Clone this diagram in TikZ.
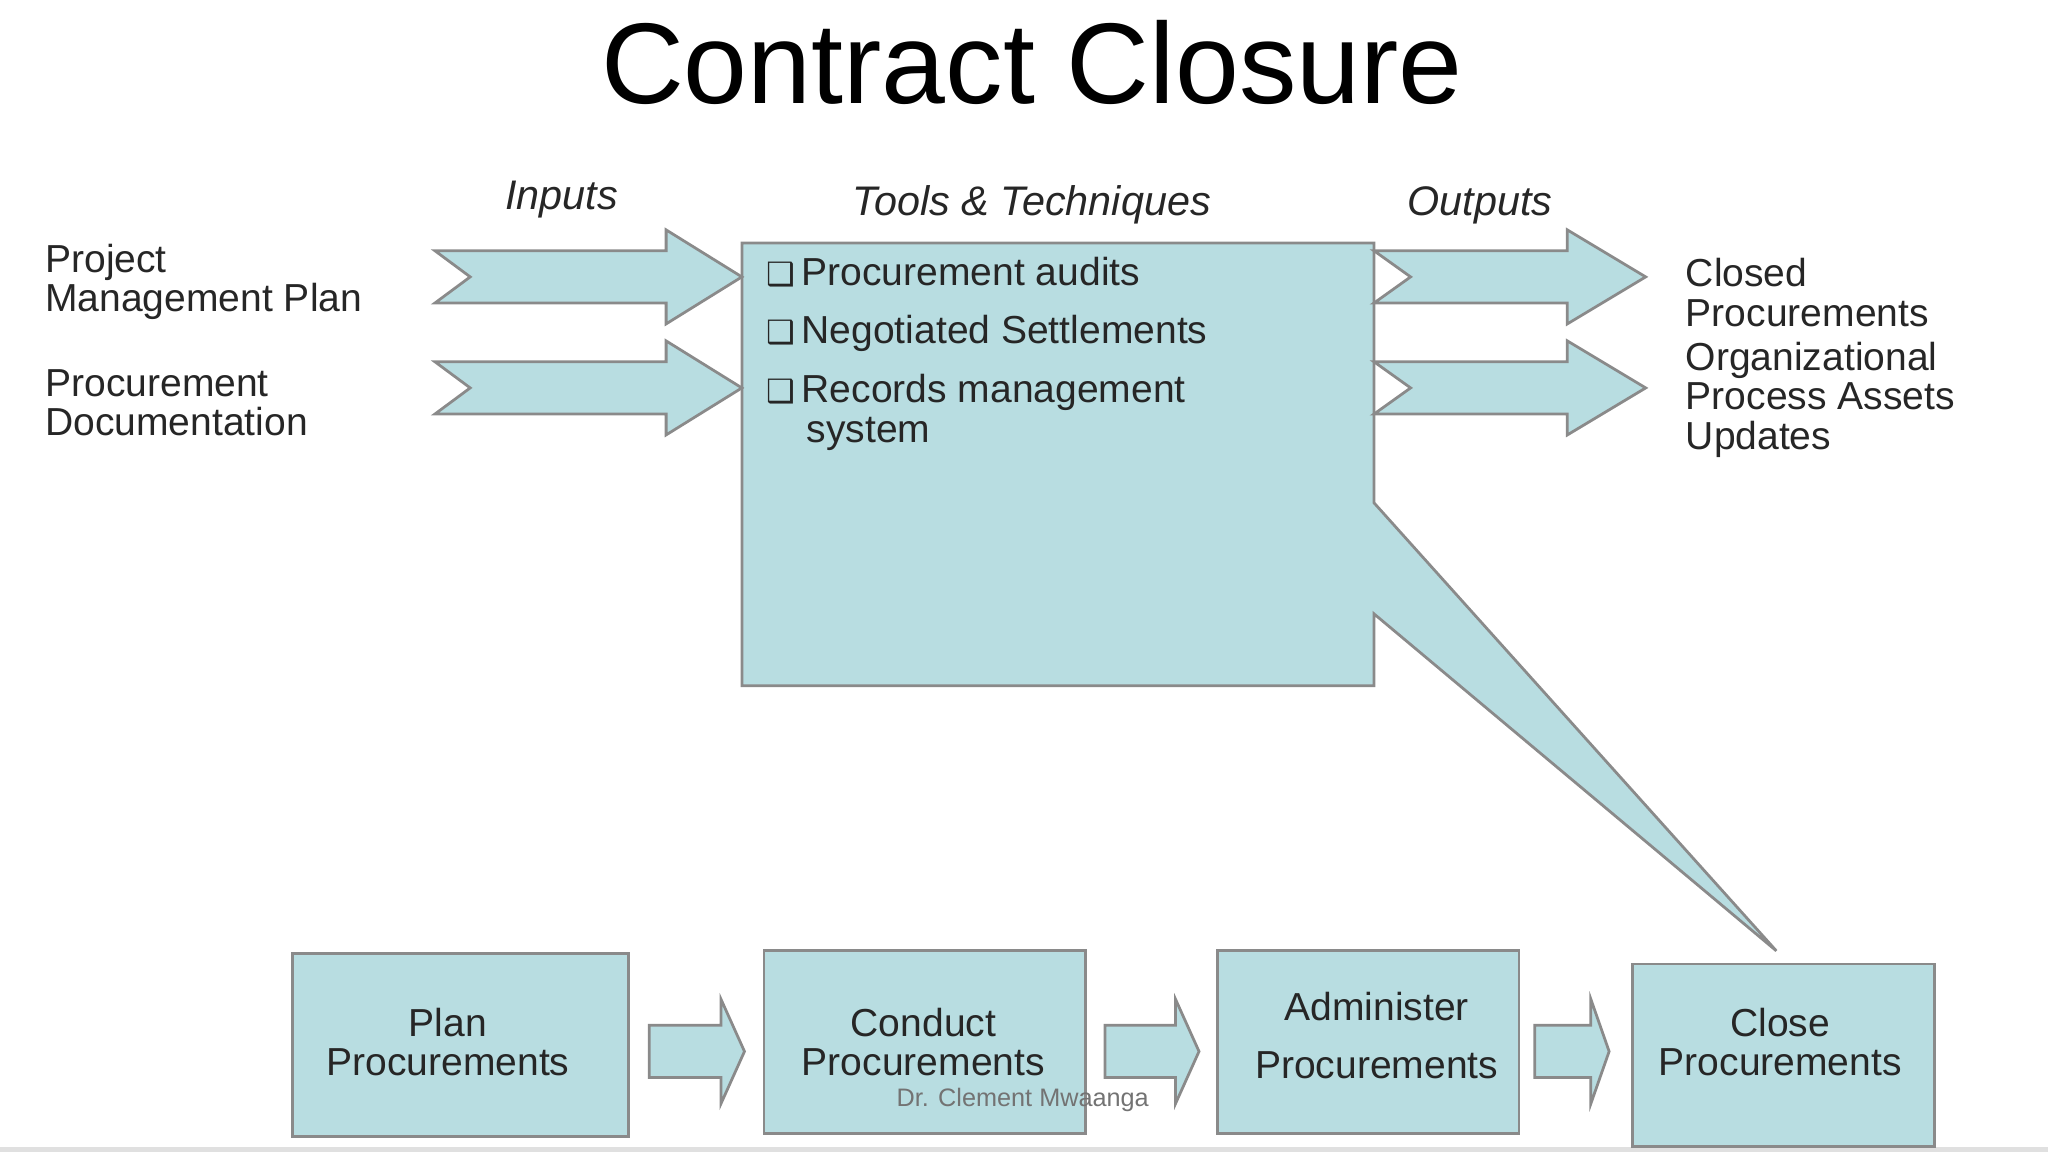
\documentclass[tikz,border=0pt]{standalone}
\usepackage{fontspec}
\setmainfont{Liberation Sans}
\newfontfamily\dejavu{DejaVu Sans}
\definecolor{fillb}{HTML}{B8DDE1}
\definecolor{edge}{HTML}{8A8A8A}
\begin{document}
\begin{tikzpicture}[x=0.01cm,y=-0.01cm,
  shp/.style={fill=fillb,draw=edge,line width=0.6pt},
  lbl/.style={font=\fontsize{8.5}{8.6}\selectfont,align=left,inner sep=0,text=black!85},
  cbox/.style={lbl,align=center},
  hdr/.style={font=\fontsize{9}{10}\selectfont\itshape,inner sep=0,text=black!85}]
\useasboundingbox (0,0) rectangle (1568,882);
\fill[black!12] (0,878) rectangle (1568,882);
\node[font=\fontsize{25}{26}\selectfont,inner sep=0] (title) at (790,48) {Contract Closure};
\node[hdr] (hin) at (430,153) {Inputs};
\node[hdr] (htt) at (790,157) {Tools \& Techniques};
\node[hdr] (hout) at (1133,157) {Outputs};
% big box with callout
\draw[shp] (568,186) -- (1052,186) -- (1052,385) -- (1360,728) -- (1052,470) -- (1052,525) -- (568,525) -- cycle;
\coordinate (tt) at (568,186);
\node[lbl,anchor=north west] (t1) at (586,196) {{\dejavu\fontsize{7}{8}\selectfont ❑}\,Procurement audits};
\node[lbl,anchor=north west] (t2) at (586,241) {{\dejavu\fontsize{7}{8}\selectfont ❑}\,Negotiated Settlements};
\node[lbl,anchor=north west] (t3) at (586,286) {{\dejavu\fontsize{7}{8}\selectfont ❑}\,Records management\\[0pt]\hspace*{3.1mm}system};
% input arrows
\foreach \c in {212,297}{
  \draw[shp] (333,\c-20) -- (510,\c-20) -- (510,\c-36) -- (568,\c) -- (510,\c+36) -- (510,\c+20) -- (333,\c+20) -- (360,\c) -- cycle;
  \draw[shp] (1052,\c-20) -- (1200,\c-20) -- (1200,\c-36) -- (1260,\c) -- (1200,\c+36) -- (1200,\c+20) -- (1052,\c+20) -- (1080,\c) -- cycle;
}
\node[lbl,anchor=north west] (i1) at (34,186) {Project\\Management Plan};
\node[lbl,anchor=north west] (i2) at (34,282) {Procurement\\Documentation};
\node[lbl,anchor=north west] (o1) at (1290,197) {Closed\\Procurements};
\node[lbl,anchor=north west] (o2) at (1290,261) {Organizational\\Process Assets\\Updates};
% bottom boxes
\draw[shp] (224,730) rectangle (481,870); \node[cbox] (b1) at (343,798) {Plan\\Procurements};
\draw[shp] (585,728) rectangle (831,868); \node[cbox] (b2) at (707,798) {Conduct\\Procurements};
\draw[shp] (932,728) rectangle (1163,868); \node[cbox] (b3) at (1054,793) {Administer\\[4pt]Procurements};
\draw[shp] (1250,738) rectangle (1481,878); \node[cbox] (b4) at (1363,798) {Close\\Procurements};
% small arrows
\foreach \a/\h/\t in {497/552/570, 846/900/918, 1175/1218/1232}{
  \draw[shp] (\a,785) -- (\h,785) -- (\h,765) -- (\t,805) -- (\h,845) -- (\h,825) -- (\a,825) -- cycle;
}
\node[font=\fontsize{5.5}{6}\selectfont,text=black!55] (foot) at (783,842) {Dr. Clement Mwaanga};
\end{tikzpicture}
\end{document}
